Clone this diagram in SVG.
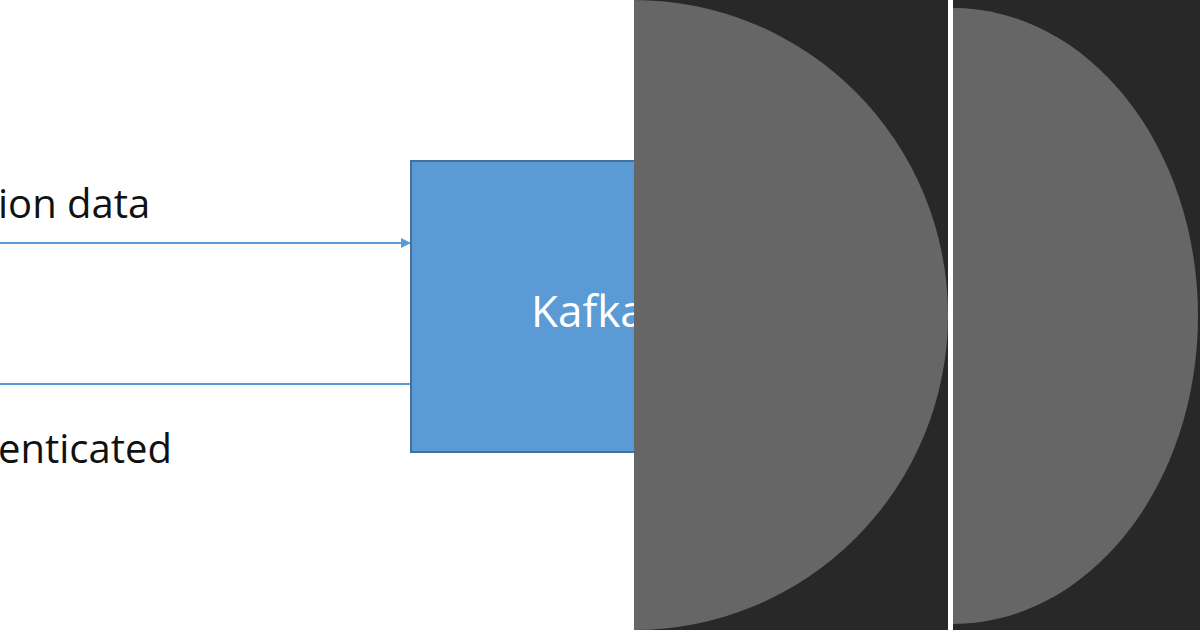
<svg xmlns="http://www.w3.org/2000/svg" width="1200" height="630" viewBox="0 0 1200 630">
<style>
.lbl{font-family:"Open Sans","Liberation Sans",sans-serif;font-size:40px;fill:#111}
.ln{stroke:#5B9BD5;stroke-width:2;fill:none}
</style>
<defs><marker id="ah" markerWidth="10" markerHeight="10" refX="9" refY="5" orient="auto" markerUnits="userSpaceOnUse"><path d="M0,0 L10,5 L0,10 Z" fill="#5B9BD5"/></marker></defs>
<rect width="1200" height="630" fill="#fff"/>
<g id="connectors">
<line class="ln" x1="0" y1="243" x2="410" y2="243" marker-end="url(#ah)"/>
<line class="ln" x1="0" y1="384" x2="411" y2="384"/>
</g>
<text class="lbl" x="-2" y="218">ion data</text>
<text class="lbl" x="-2" y="463">enticated</text>
<g id="kafka">
<rect x="411" y="161" width="260" height="291" fill="#5B9BD5" stroke="#41719C" stroke-width="2"/>
<text x="531" y="327" font-family="Open Sans,Liberation Sans,sans-serif" font-size="44" fill="#fff">Kafka</text>
</g>
<g id="panel">
<rect x="634" y="0" width="566" height="630" fill="#282828"/>
<rect x="948" y="0" width="5" height="630" fill="#fff"/>
<path d="M634,0 A314,315 0 0 1 634,630 Z" fill="#666"/>
<path d="M953,8 A245,308 0 0 1 953,624 Z" fill="#666"/>
</g>
</svg>
